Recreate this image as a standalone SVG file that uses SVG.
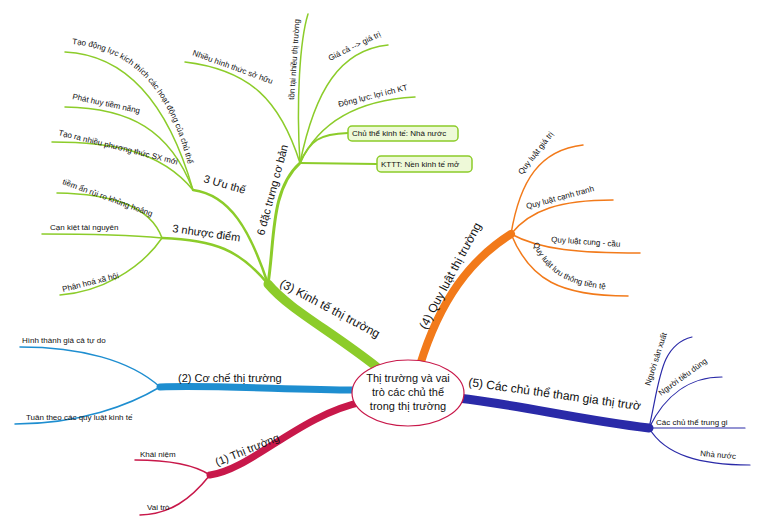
<svg xmlns="http://www.w3.org/2000/svg" width="768" height="528" viewBox="0 0 768 528">
<style>
text{font-family:"Liberation Sans",Arial,sans-serif;fill:#111}
.s{font-size:8px}.m{font-size:11px}.l{font-size:12px}
.g{stroke:#8ccc2a;fill:none}.o{stroke:#f27a1a;fill:none}.b{stroke:#2a2aa8;fill:none}.c{stroke:#1e8ed0;fill:none}.r{stroke:#c8184a;fill:none}
</style>
<rect width="768" height="528" fill="#fff"/>
<g id="connectors" stroke-linecap="round">
<path class="g" stroke-width="9" d="M378,368 C330,330 290,310 268,284"/>
<path class="g" stroke-width="3" d="M268,284 C275,240 270,190 300,163"/>
<path class="g" stroke-width="2.5" d="M268,284 C250,230 230,195 193,190"/>
<path class="g" stroke-width="2.5" d="M268,284 C240,250 215,240 162,238"/>
<path class="g" stroke-width="1.5" d="M300,163 C280,100 250,70 185,62"/>
<path class="g" stroke-width="1.5" d="M300,163 C296,100 300,40 308,14"/>
<path class="g" stroke-width="1.5" d="M300,163 C315,90 340,50 388,45"/>
<path class="g" stroke-width="1.5" d="M300,163 C320,120 360,100 415,97"/>
<path class="g" stroke-width="2" d="M300,163 C310,140 320,134 348,133"/>
<path class="g" stroke-width="2" d="M300,163 L377,164"/>
<path class="g" stroke-width="1.5" d="M193,190 C170,110 130,55 65,52"/>
<path class="g" stroke-width="1.5" d="M193,190 C170,130 130,108 65,107"/>
<path class="g" stroke-width="1.5" d="M193,190 C160,150 110,142 52,142"/>
<path class="g" stroke-width="1.5" d="M162,238 C150,205 110,194 57,193"/>
<path class="g" stroke-width="1.5" d="M162,238 C130,235 80,234 42,234"/>
<path class="g" stroke-width="1.5" d="M162,238 C140,270 100,292 60,295"/>
<path class="o" stroke-width="8" d="M420,365 C440,300 470,260 511,234"/>
<path class="o" stroke-width="1.5" d="M511,234 C520,180 540,150 583,145"/>
<path class="o" stroke-width="1.5" d="M511,234 C530,210 560,200 613,200"/>
<path class="o" stroke-width="1.5" d="M511,234 C540,250 580,253 640,253"/>
<path class="o" stroke-width="1.5" d="M511,234 C530,280 560,296 628,296"/>
<path class="b" stroke-width="9" d="M458,398 C520,405 580,420 649,428"/>
<path class="b" stroke-width="1.2" d="M649,428 C660,380 660,345 692,337"/>
<path class="b" stroke-width="1.2" d="M649,428 C665,395 690,377 722,377"/>
<path class="b" stroke-width="1.2" d="M649,428 L745,428"/>
<path class="b" stroke-width="1.2" d="M649,428 C665,455 700,465 750,465"/>
<path class="c" stroke-width="7" d="M355,390 C290,390 220,385 160,387"/>
<path class="c" stroke-width="1.5" d="M160,387 C130,360 80,347 20,347"/>
<path class="c" stroke-width="1.5" d="M160,387 C130,405 80,424 15,424"/>
<path class="r" stroke-width="7" d="M362,402 C300,415 250,470 210,475"/>
<path class="r" stroke-width="1.5" d="M210,475 C190,462 160,460 135,460"/>
<path class="r" stroke-width="1.5" d="M210,475 C190,500 170,514 140,515"/>
</g>
<defs>
<path id="tp1" d="M72,44 C140,50 172,100 188,165"/>
<path id="tp2" d="M533,244 C548,276 572,288 620,290"/>
</defs>
<g id="center"><ellipse cx="408" cy="393" rx="56" ry="33" fill="#fff" stroke="#c8184a" stroke-width="1.2"/>
<text class="m" text-anchor="middle" x="408" y="382">Thị trường và vai</text>
<text class="m" text-anchor="middle" x="408" y="396">trò các chủ thể</text>
<text class="m" text-anchor="middle" x="408" y="410">trong thị trường</text></g>
<g id="kttt"><text class="l" transform="translate(279,286) rotate(28)">(3) Kinh tế thị trường</text>
<text class="m" transform="translate(264,236) rotate(-75)">6 đặc trưng cơ bản</text>
<text class="m" transform="translate(203,182) rotate(16)">3 Ưu thế</text>
<text class="m" transform="translate(172,232) rotate(8)">3 nhược điểm</text>
<text class="s" transform="translate(192,55) rotate(20)">Nhiều hình thức sở hữu</text>
<text class="s" transform="translate(294,100) rotate(-86)">tồn tại nhiều thị trường</text>
<text class="s" transform="translate(330,61) rotate(-26)">Giá cả --&gt; giá trị</text>
<text class="s" transform="translate(339,107) rotate(-14)">Động lực: lợi ích KT</text>
<rect x="348" y="126" width="110" height="15" rx="4" fill="#eef9d8" stroke="#8ccc2a" stroke-width="1.5"/>
<text class="s" x="352" y="136">Chủ thể kinh tế: Nhà nước</text>
<rect x="377" y="156" width="95" height="16" rx="4" fill="#eef9d8" stroke="#8ccc2a" stroke-width="1.5"/>
<text class="s" x="381" y="167">KTTT: Nền kinh tế mở</text>
<text class="s"><textPath href="#tp1">Tạo động lực kích thích các hoạt động của chủ thể</textPath></text>
<text class="s" transform="translate(72,99) rotate(12)">Phát huy tiềm năng</text>
<text class="s" transform="translate(58,135) rotate(14)">Tạo ra nhiều phương thức SX mới</text>
<text class="s" transform="translate(62,184) rotate(20)">tiềm ẩn rủi ro khủng hoảng</text>
<text class="s" x="50" y="230">Cạn kiệt tài nguyên</text>
<text class="s" transform="translate(63,292) rotate(-14)">Phân hoá xã hội</text></g>
<g id="quyluat"><text class="l" transform="translate(426,330) rotate(-62)">(4) Quy luật thị trường</text>
<text class="s" transform="translate(522,175) rotate(-52)">Quy luật giá trị</text>
<text class="s" transform="translate(527,209) rotate(-15)">Quy luật cạnh tranh</text>
<text class="s" transform="translate(551,242) rotate(4)">Quy luật cung - cầu</text>
<text class="s"><textPath href="#tp2">Quy luật lưu thông tiền tệ</textPath></text></g>
<g id="chuthe"><text class="l" transform="translate(468,386) rotate(8)">(5) Các chủ thể tham gia thị trườ</text>
<text class="s" transform="translate(650,386) rotate(-72)">Người sản xuất</text>
<text class="s" transform="translate(661,396) rotate(-36)">Người tiêu dùng</text>
<text class="s" x="656" y="425">Các chủ thể trung gi</text>
<text class="s" transform="translate(700,456) rotate(5)">Nhà nước</text></g>
<g id="coche"><text class="m" x="178" y="382">(2) Cơ chế thị trường</text>
<text class="s" x="22" y="343">Hình thành giá cả tự do</text>
<text class="s" x="26" y="420">Tuân theo các quy luật kinh tế</text></g>
<g id="thitruong"><text class="m" transform="translate(217,466) rotate(-22)">(1) Thị trường</text>
<text class="s" x="140" y="457">Khái niệm</text>
<text class="s" x="147" y="510">Vai trò</text></g>
</svg>
